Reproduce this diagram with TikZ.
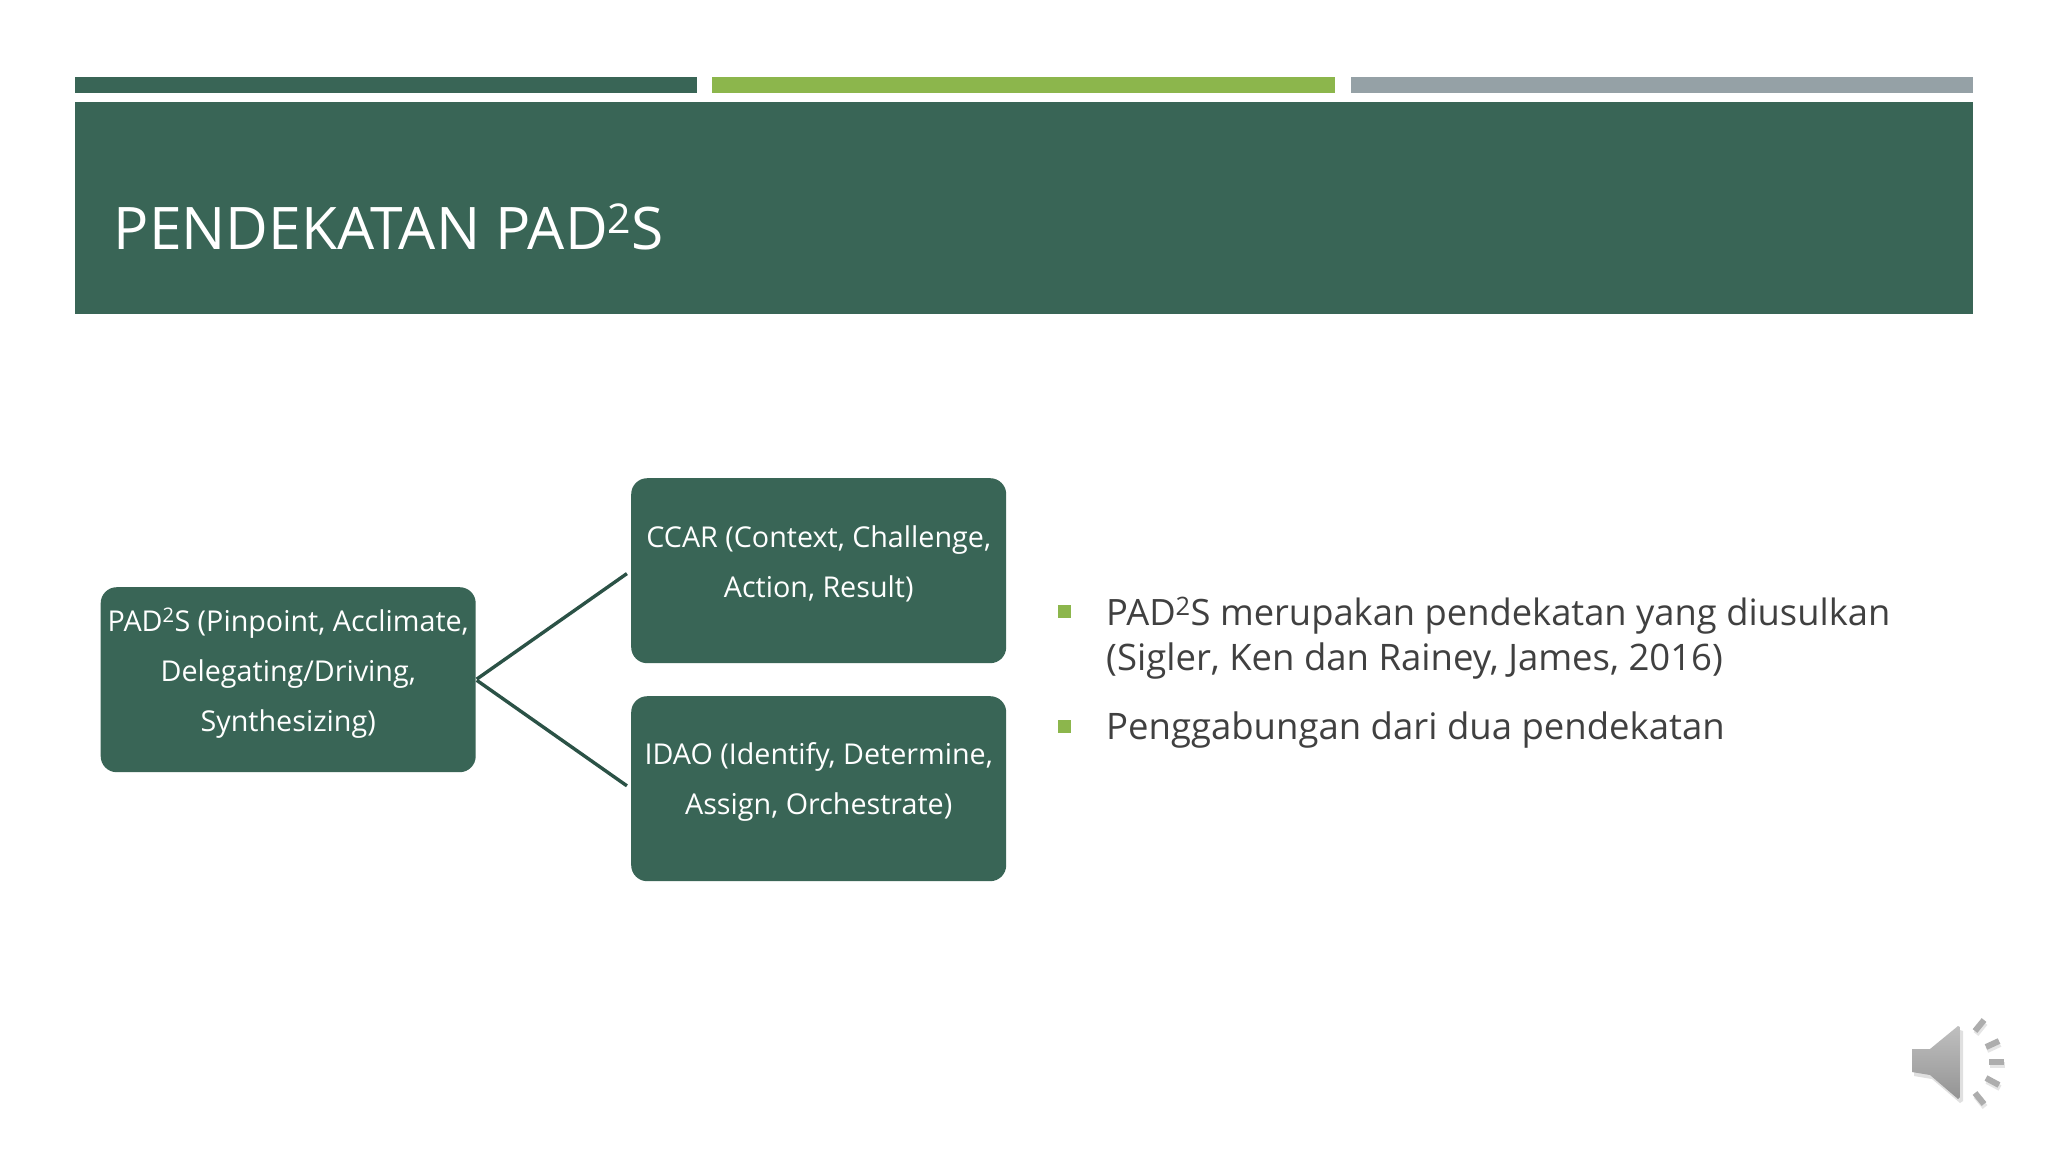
\documentclass[tikz,border=0pt]{standalone}
\usepackage{fontspec}
\setmainfont{Open Sans}
\definecolor{hdr}{HTML}{396556}
\definecolor{lime}{HTML}{8CB64C}
\definecolor{greybar}{HTML}{95A1A6}
\definecolor{linkc}{HTML}{2B5246}
\definecolor{bodytext}{HTML}{404040}
\tikzset{
  px/.style={x=1pt,y=-1pt},
  bar/.style={fill=#1,draw=none},
  boxnode/.style={fill=hdr,draw=none,rounded corners=16pt,minimum width=375pt,minimum height=185pt,inner sep=0pt,text=white,anchor=north west},
  link/.style={draw=linkc,line width=3.4pt,shorten >=5pt,shorten <=1pt},
  bul/.style={fill=lime,draw=none},
  tick/.style={line width=6pt,draw=#1},
}
\newcommand{\boxtext}[1]{\raisebox{4pt}[0pt][0pt]{\parbox{375pt}{\centering\fontsize{28.7}{50}\selectfont #1}}}
\begin{document}
\begin{tikzpicture}[px]
\useasboundingbox (0,0) rectangle (2048,1152);
\fill[white] (0,0) rectangle (2048,1152);
\fill[bar=hdr] (74.5,77) rectangle (697,93);
\fill[bar=lime] (712,77) rectangle (1335,93);
\fill[bar=greybar] (1351,77) rectangle (1973,93);
\fill[bar=hdr] (74.5,102) rectangle (1973,313.5);
\node[anchor=base west,inner sep=0pt,text=white,font=\fontsize{58.7}{70}\selectfont] (title) at (113.5,249) {PENDEKATAN PAD\raisebox{6pt}{\textsuperscript{2}}S};

\node[boxnode] (root) at (100.5,587) {\boxtext{PAD\textsuperscript{2}S (Pinpoint, Acclimate,\\Delegating/Driving,\\Synthesizing)}};
\node[boxnode] (ccar) at (631,478) {\boxtext{CCAR (Context, Challenge,\\Action, Result)}};
\node[boxnode] (idao) at (631,696) {\boxtext{IDAO (Identify, Determine,\\Assign, Orchestrate)}};
\draw[link] (root.east) -- (ccar.west);
\draw[link] (root.east) -- (idao.west);

\fill[bul] (1058,605) rectangle (1071,618);
\fill[bul] (1058,720) rectangle (1071,733);
\node[anchor=base west,inner sep=0pt,text=bodytext,font=\fontsize{36.3}{45}\selectfont] (l1) at (1106,625) {PAD\textsuperscript{2}S merupakan pendekatan yang diusulkan};
\node[anchor=base west,inner sep=0pt,text=bodytext,font=\fontsize{36.5}{45}\selectfont] (l2) at (1106,670.5) {(Sigler, Ken dan Rainey, James, 2016)};
\node[anchor=base west,inner sep=0pt,text=bodytext,font=\fontsize{36.5}{45}\selectfont] (l3) at (1106,739) {Penggabungan dari dua pendekatan};

% speaker icon
\fill[black!12] (1914,1053) -- (1932,1053) -- (1960,1030) -- (1963,1031) -- (1963,1101) -- (1960,1103) -- (1932,1079) -- (1914,1076) -- cycle;
\shade[top color=black!25,bottom color=black!42] (1912,1049) -- (1930,1049) -- (1958,1026) -- (1960,1027) -- (1960,1097) -- (1958,1099) -- (1930,1075) -- (1912,1072) -- cycle;
\foreach \a/\b/\c/\d in {1975/1031/1984/1020,1986/1047/1999/1041,1989/1062/2004/1062,1986/1078/1999/1085,1975/1093/1984/1104}{
  \draw[tick=black!10] (\a+1,\b+3) -- (\c+1,\d+3);
  \draw[tick=black!32] (\a,\b) -- (\c,\d);
}
\end{tikzpicture}
\end{document}
